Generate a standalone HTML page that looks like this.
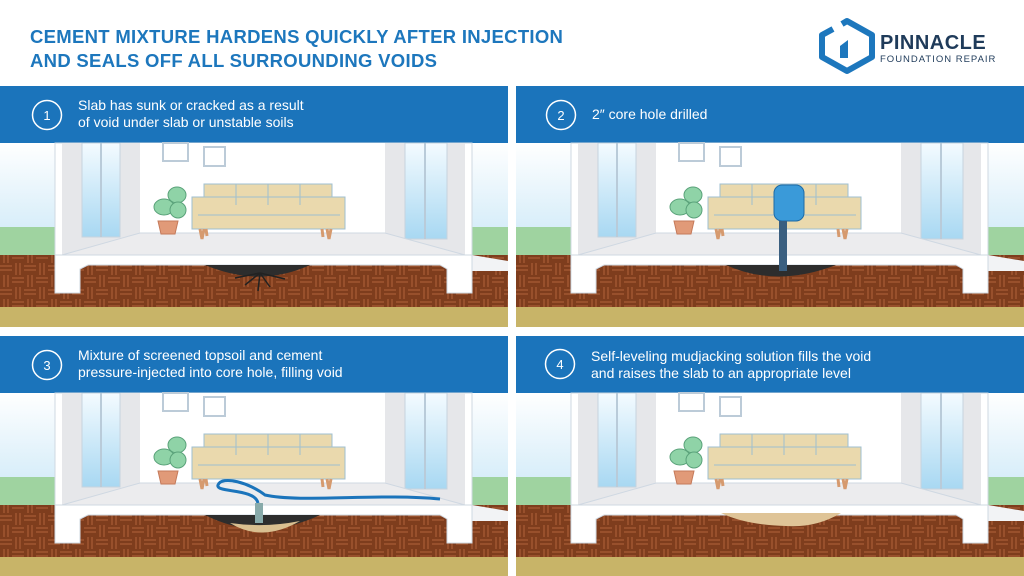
<!DOCTYPE html><html><head><meta charset="utf-8"><style>
html,body{margin:0;padding:0;background:#fff;width:1024px;height:576px;overflow:hidden}
svg{display:block}
text{font-family:"Liberation Sans",sans-serif}
</style></head><body>
<svg width="1024" height="576" viewBox="0 0 1024 576" xmlns="http://www.w3.org/2000/svg">
<defs>
<linearGradient id="sky" x1="0" y1="0" x2="0" y2="1"><stop offset="0" stop-color="#ffffff"/><stop offset="1" stop-color="#a9d9f2"/></linearGradient>
<linearGradient id="glass" x1="0" y1="0" x2="0" y2="1"><stop offset="0" stop-color="#f4fbff"/><stop offset="1" stop-color="#a8d8f2"/></linearGradient>
<pattern id="soil" width="24" height="24" patternUnits="userSpaceOnUse">
<rect width="24" height="24" fill="#7e3d1d"/>
<g stroke="#a65b33" stroke-width="1.3"><line x1="0" y1="3" x2="12" y2="3"/><line x1="0" y1="7" x2="12" y2="7"/><line x1="16" y1="0" x2="16" y2="12"/><line x1="20" y1="0" x2="20" y2="12"/><line x1="4" y1="12" x2="4" y2="24"/><line x1="8" y1="12" x2="8" y2="24"/><line x1="12" y1="15" x2="24" y2="15"/><line x1="12" y1="19" x2="24" y2="19"/></g>
</pattern>
<g id="scene">
<rect x="0" y="0" width="508" height="184" fill="url(#sky)"/>
<rect x="0" y="84" width="508" height="28" fill="#9fd3a0"/>
<rect x="0" y="112" width="508" height="52" fill="url(#soil)"/>
<rect x="0" y="164" width="508" height="20" fill="#c8b468"/>
<polygon points="472,112 508,118 508,128 472,128" fill="#f2f3f5"/>
<rect x="55" y="0" width="417" height="122" fill="#fff" stroke="#cfd8e2"/>
<polygon points="62,0 140,0 140,90 62,112" fill="#e6e7ea"/>
<polygon points="405,0 465,0 465,112 385,90 385,0" fill="#e6e7ea"/>
<rect x="82" y="0" width="38" height="94" fill="url(#glass)" stroke="#c7d3de"/>
<line x1="101" y1="0" x2="101" y2="94" stroke="#b9cbd9" stroke-width="2"/>
<rect x="405" y="0" width="42" height="96" fill="url(#glass)" stroke="#c7d3de"/>
<line x1="425" y1="0" x2="425" y2="96" stroke="#b9cbd9" stroke-width="2"/>
<rect x="140" y="0" width="245" height="90" fill="#fff"/>
<polygon points="140,90 385,90 465,112 62,112" fill="#ececee" stroke="#cfd8e2"/>
<rect x="163" y="0" width="25" height="18" fill="none" stroke="#bccbd8" stroke-width="2"/>
<rect x="204" y="4" width="21" height="19" fill="none" stroke="#bccbd8" stroke-width="2"/>
<path d="M158,78 h20 l-3,13 h-14z" fill="#e19a78" stroke="#c57a5a"/>
<ellipse cx="164" cy="64" rx="10" ry="8" fill="#8fd3a7" stroke="#5aa27a"/>
<ellipse cx="177" cy="52" rx="9" ry="8" fill="#8fd3a7" stroke="#5aa27a"/>
<ellipse cx="178" cy="67" rx="8" ry="8" fill="#8fd3a7" stroke="#5aa27a"/>
<rect x="204" y="41" width="128" height="28" fill="#ead9ad" stroke="#9fbfd0"/>
<rect x="192" y="54" width="153" height="32" fill="#ead9ad" stroke="#9fbfd0"/>
<line x1="198" y1="72" x2="340" y2="72" stroke="#9fbfd0"/>
<line x1="236" y1="41" x2="236" y2="62" stroke="#9fbfd0"/><line x1="268" y1="41" x2="268" y2="62" stroke="#9fbfd0"/><line x1="300" y1="41" x2="300" y2="62" stroke="#9fbfd0"/>
<path d="M200,86 l2,10 l2,-10 M206,86 l1,7 M322,86 l1,8 M327,86 l2,10 l2,-10" stroke="#d69a6e" stroke-width="3" fill="none"/>
<path d="M55,112 H472 V150 H447 V126 L440,122 H88 L80,126 V150 H55Z" fill="#fff" stroke="#cfd8e2"/>
</g>
</defs>
<text x="30" y="43" font-size="18.5" font-weight="bold" fill="#1d77bd" letter-spacing="0.3">CEMENT MIXTURE HARDENS QUICKLY AFTER INJECTION</text>
<text x="30" y="67" font-size="18.5" font-weight="bold" fill="#1d77bd" letter-spacing="0.3">AND SEALS OFF ALL SURROUNDING VOIDS</text>
<path d="M833,29 l-11,6 v22 l25,14 l25,-14 v-22 l-25,-14 l-5,3" fill="none" stroke="#1d77bd" stroke-width="6" stroke-linejoin="round"/>
<path d="M840,58 v-12 l8,-6 v18z" fill="#1d77bd"/>
<text x="880" y="49" font-size="20" font-weight="bold" fill="#1f3b5a" letter-spacing="0.5">PINNACLE</text>
<text x="880" y="62" font-size="9.5" fill="#1f3b5a" letter-spacing="1">FOUNDATION REPAIR</text>

<g transform="translate(0,86)">
<rect width="508" height="57" fill="#1b74bb"/>
<circle cx="47" cy="29" r="14.5" fill="none" stroke="#fff" stroke-width="1.5"/>
<text x="47" y="34" font-size="13" fill="#fff" text-anchor="middle">1</text>
<text x="78" y="24" font-size="14" fill="#fff">Slab has sunk or cracked as a result</text>
<text x="78" y="41" font-size="14" fill="#fff">of void under slab or unstable soils</text>
<g transform="translate(0,57)"><use href="#scene"/>
<path d="M205,122 Q260,145 310,122 Z" fill="#2d2d2d"/>
<path d="M260,130 l-15,12 M260,130 l10,14 M260,130 l-2,18 M260,130 l-25,5 M260,130 l25,6" stroke="#222" stroke-width="1.5"/></g>
</g>
<g transform="translate(516,86)">
<rect width="508" height="57" fill="#1b74bb"/>
<circle cx="45" cy="29" r="14.5" fill="none" stroke="#fff" stroke-width="1.5"/>
<text x="45" y="34" font-size="13" fill="#fff" text-anchor="middle">2</text>
<text x="76" y="33" font-size="14" fill="#fff">2″ core hole drilled</text>
<g transform="translate(0,57)"><use href="#scene"/>
<path d="M210,122 Q260,145 320,122 Z" fill="#2d2d2d"/>
<rect x="258" y="42" width="30" height="36" rx="8" fill="#3a9ad9" stroke="#1d6aa5"/>
<rect x="263" y="78" width="8" height="50" fill="#3a5f80"/></g>
</g>
<g transform="translate(0,336)">
<rect width="508" height="57" fill="#1b74bb"/>
<circle cx="47" cy="29" r="14.5" fill="none" stroke="#fff" stroke-width="1.5"/>
<text x="47" y="34" font-size="13" fill="#fff" text-anchor="middle">3</text>
<text x="78" y="24" font-size="14" fill="#fff">Mixture of screened topsoil and cement</text>
<text x="78" y="41" font-size="14" fill="#fff">pressure-injected into core hole, filling void</text>
<g transform="translate(0,57)"><use href="#scene"/>
<path d="M205,122 Q260,150 320,122 Z" fill="#2d2d2d"/>
<path d="M230,130 Q262,150 300,128 Q265,135 230,130Z" fill="#d9bf90"/>
<path d="M258,110 C255,95 215,100 218,92 C222,82 250,90 265,102 C300,110 380,100 440,106" stroke="#1b74bb" stroke-width="3" fill="none"/>
<rect x="255" y="110" width="8" height="20" fill="#8aa"/></g>
</g>
<g transform="translate(516,336)">
<rect width="508" height="57" fill="#1b74bb"/>
<circle cx="44" cy="28" r="14.5" fill="none" stroke="#fff" stroke-width="1.5"/>
<text x="44" y="33" font-size="13" fill="#fff" text-anchor="middle">4</text>
<text x="75" y="25" font-size="14" fill="#fff">Self-leveling mudjacking solution fills the void</text>
<text x="75" y="42" font-size="14" fill="#fff">and raises the slab to an appropriate level</text>
<g transform="translate(0,57)"><use href="#scene"/>
<path d="M205,120 L325,120 Q300,135 270,133 Q230,132 205,120Z" fill="#dfc497"/></g>
</g>
</svg>
</body></html>
